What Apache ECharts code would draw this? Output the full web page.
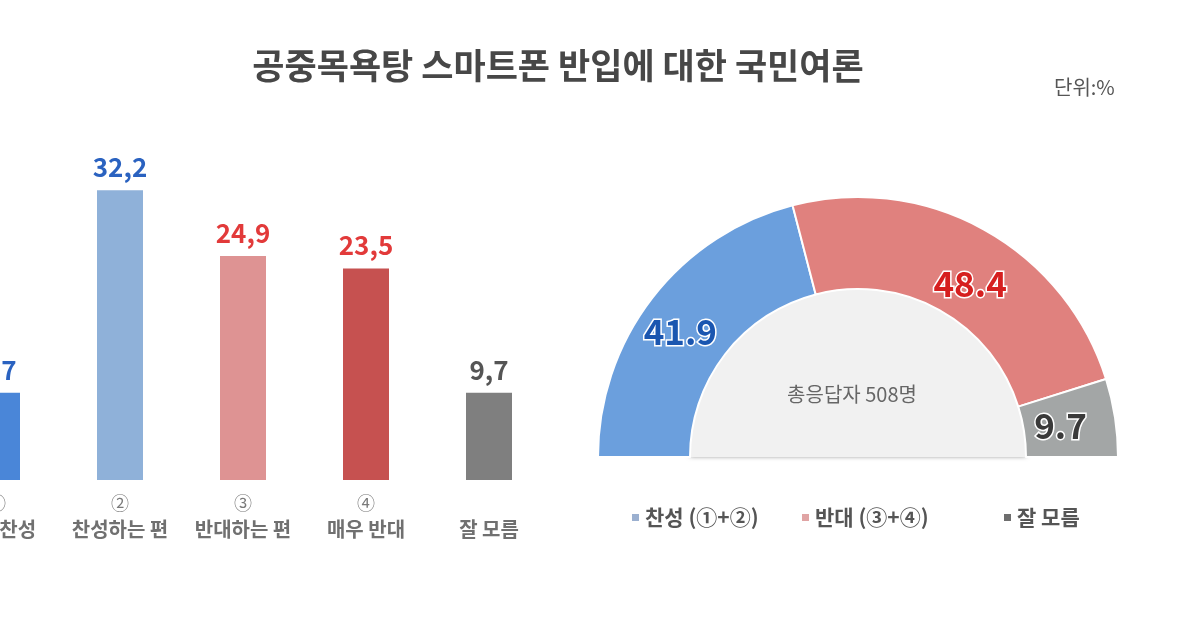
<!DOCTYPE html>
<html>
<head>
<meta charset="utf-8">
<script src="https://cdn.jsdelivr.net/npm/echarts@6/dist/echarts.min.js"></script>
<style>html,body{margin:0;padding:0;background:#fff;}#c{width:1200px;height:630px;}</style>
</head>
<body>
<div id="c"></div>
<script>
const categories = ['매우 찬성', '찬성하는 편', '반대하는 편', '매우 반대', '잘 모름'];
const markers = ['①', '②', '③', '④', ''];
const barValues = [9.7, 32.2, 24.9, 23.5, 9.7];
const pieNames = ['찬성 (①+②)', '반대 (③+④)', '잘 모름'];
const pieValues = [41.9, 48.4, 9.7];
const titleText = '공중목욕탕 스마트폰 반입에 대한 국민여론';
const unitText = '단위:%';
const centerText = '총응답자 508명';

const FONT = '"Noto Sans CJK KR", "Noto Sans", sans-serif';
const barColors = ['#4a86d8', '#8fb1d9', '#de9393', '#c65150', '#7f7f7f'];
const barLabelColors = ['#2a62c0', '#2a62c0', '#e23a3a', '#e23a3a', '#555555'];
const pieColors = ['#6b9fdd', '#e0817e', '#a3a6a6'];
const pieLabelColors = ['#1a56b0', '#d61f1f', '#3a3a3a'];
const pieLabelOffsets = [[-6, 7], [7, 17], [-12, 2]];
const legendIconColors = ['#9bb0d0', '#e0a4a4', '#6e6e6e'];
const legendLefts = [625, 795, 997];

const chart = echarts.init(document.getElementById('c'));
chart.setOption({
  backgroundColor: '#ffffff',
  animation: false,
  title: [
    { text: titleText, left: 553, top: 43, textAlign: 'center',
      textStyle: { fontFamily: FONT, fontSize: 35, fontWeight: 'bold', color: '#474747' } },
    { text: unitText, left: 1049, top: 72,
      textStyle: { fontFamily: FONT, fontSize: 20, fontWeight: 'normal', color: '#555' } },
    { text: centerText, left: 847, top: 379, textAlign: 'center',
      textStyle: { fontFamily: FONT, fontSize: 20, fontWeight: 'normal', color: '#666' } }
  ],
  legend: pieNames.map((n, i) => ({
    left: legendLefts[i], top: 502, icon: 'rect', itemWidth: 9, itemHeight: 9, itemGap: 6,
    selectedMode: false,
    data: [{ name: n, itemStyle: { color: legendIconColors[i] } }],
    textStyle: { fontFamily: FONT, fontSize: 21, fontWeight: 'bold', color: '#555' }
  })),
  grid: { left: -64.5, width: 615, top: 120, height: 360, outerBoundsMode: 'none', containLabel: false },
  xAxis: {
    type: 'category', data: categories,
    axisLine: { show: false }, axisTick: { show: false },
    axisLabel: {
      interval: 0, margin: 11, hideOverlap: false,
      formatter: (v, idx) => '{n|' + (markers[idx] || ' ') + '}\n{t|' + v + '}',
      rich: {
        n: { fontFamily: FONT, fontSize: 18, color: '#7a7a7a', lineHeight: 24, align: 'center' },
        t: { fontFamily: FONT, fontSize: 20, fontWeight: 'bold', color: '#707070', lineHeight: 28, align: 'center' }
      }
    }
  },
  yAxis: { type: 'value', min: 0, max: 40, show: false, splitLine: { show: false } },
  series: [
    {
      type: 'bar', barWidth: 46,
      data: barValues.map((v, i) => ({
        value: v,
        itemStyle: { color: barColors[i] },
        label: { color: barLabelColors[i] }
      })),
      label: {
        show: true, position: 'top', distance: 10,
        fontFamily: FONT, fontSize: 26, fontWeight: 'bold',
        formatter: p => String(p.value).replace('.', ',')
      }
    },
    {
      name: 'bg', type: 'pie', center: [858, 457], radius: [0, 168],
      startAngle: 180, endAngle: 0, silent: true, z: 1,
      label: { show: false }, labelLine: { show: false },
      data: [{ value: 1, name: 'bg' }],
      itemStyle: { color: '#f1f1f1', shadowColor: 'rgba(0,0,0,0.55)', shadowBlur: 5, shadowOffsetY: -1 }
    },
    {
      type: 'pie', center: [858, 457], radius: [168, 260],
      startAngle: 180, endAngle: 0, z: 2, silent: true,
      itemStyle: { borderColor: '#ffffff', borderWidth: 2 },
      data: pieValues.map((v, i) => ({
        value: v, name: pieNames[i],
        itemStyle: { color: pieColors[i] },
        label: { color: pieLabelColors[i], offset: pieLabelOffsets[i] }
      })),
      label: {
        show: true, position: 'inside',
        fontFamily: FONT, fontSize: 35, fontWeight: 'bold',
        textBorderColor: '#ffffff', textBorderWidth: 3,
        formatter: p => String(p.value)
      },
      labelLine: { show: false }
    }
  ]
});
</script>
</body>
</html>
